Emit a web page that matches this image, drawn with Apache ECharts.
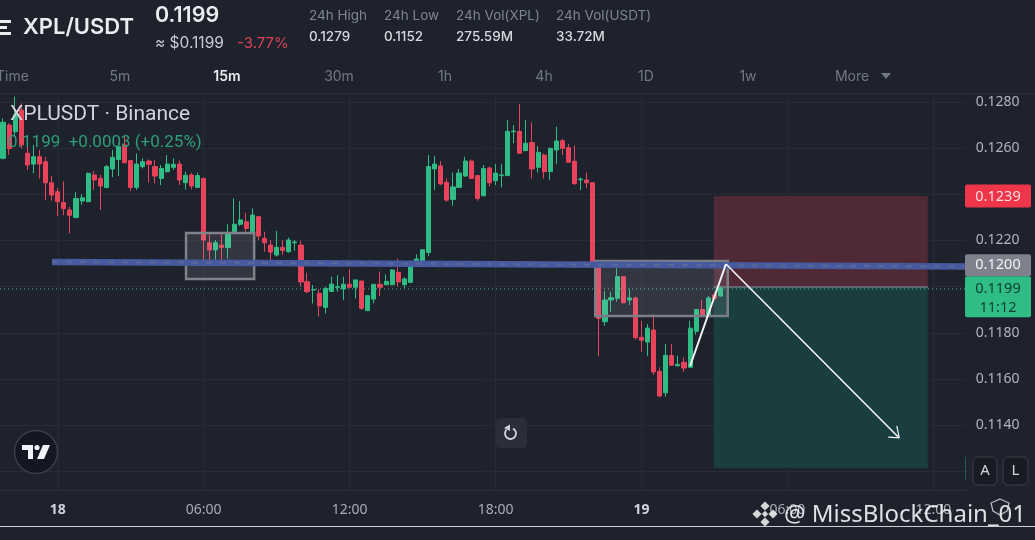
<!DOCTYPE html>
<html><head><meta charset="utf-8">
<style>html,body{margin:0;padding:0;background:#1e222d;overflow:hidden}#c{width:1035px;height:540px}</style>
<script src="https://cdn.jsdelivr.net/npm/echarts@6/dist/echarts.min.js"></script>
</head><body><div id="c"></div>
<script>
const opens=[.12556,.12700,.12671,.12765,.12578,.12531,.12563,.12541,.12450,.12411,.12364,.12332,.12300,.12371,.12368,.12484,.12469,.12430,.12510,.12551,.12614,.12546,.12430,.12520,.12544,.12520,.12469,.12498,.12517,.12531,.12450,.12484,.12430,.12469,.12190,.12159,.12179,.12169,.12238,.12270,.12281,.12238,.12303,.12209,.12180,.12137,.12170,.12151,.12190,.12180,.12021,.11985,.11971,.11910,.11979,.11997,.11990,.12010,.11997,.12024,.11896,.11946,.12010,.12008,.12008,.12062,.12008,.12018,.12101,.12105,.12148,.12510,.12523,.12452,.12378,.12430,.12479,.12544,.12481,.12394,.12514,.12459,.12481,.12481,.12671,.12673,.12589,.12624,.12517,.12570,.12499,.12592,.12632,.12602,.12543,.12463,.12462,.12450,.12091,.11848,.11942,.11949,.12043,.11942,.11951,.11780,.11760,.11812,.11633,.11540,.11701,.11657,.11672,.11650,.11806,.11901,.11878,.11964,.11959];
const closes=[.12712,.12599,.12744,.12614,.12527,.12563,.12531,.12450,.12397,.12368,.12338,.12309,.12382,.12385,.12491,.12462,.12436,.12520,.12560,.12606,.12537,.12430,.12531,.12541,.12530,.12479,.12512,.12531,.12530,.12462,.12482,.12436,.12481,.12202,.12159,.12190,.12170,.12231,.12270,.12289,.12252,.12310,.12219,.12190,.12150,.12170,.12156,.12202,.12193,.12020,.11978,.11988,.11916,.11992,.12011,.12000,.12010,.11997,.12029,.11906,.11961,.12010,.11997,.12023,.12072,.12020,.12033,.12109,.12120,.12160,.12520,.12531,.12445,.12375,.12432,.12492,.12544,.12469,.12382,.12512,.12450,.12492,.12484,.12673,.12674,.12578,.12621,.12510,.12582,.12498,.12599,.12631,.12599,.12539,.12447,.12466,.12450,.12094,.11862,.11942,.11952,.12043,.11930,.11951,.11779,.11768,.11820,.11630,.11526,.11702,.11659,.11663,.11647,.11820,.11901,.11870,.11951,.11948,.11994];
const lows=[.12551,.12570,.12650,.12599,.12505,.12491,.12469,.12375,.12372,.12306,.12310,.12231,.12296,.12354,.12365,.12419,.12332,.12426,.12474,.12479,.12534,.12414,.12419,.12512,.12450,.12447,.12440,.12494,.12505,.12440,.12421,.12421,.12429,.12108,.12115,.12118,.12115,.12122,.12231,.12263,.12238,.12231,.12202,.12151,.12115,.12130,.12137,.12147,.12156,.12000,.11971,.11927,.11870,.11884,.11978,.11978,.11942,.11997,.11949,.11899,.11894,.11927,.11959,.12007,.12007,.12000,.11992,.12017,.12098,.12104,.12133,.12419,.12440,.12368,.12351,.12429,.12476,.12466,.12372,.12390,.12433,.12440,.12430,.12479,.12621,.12577,.12588,.12469,.12494,.12469,.12462,.12531,.12570,.12537,.12440,.12419,.12426,.12089,.11699,.11829,.11891,.11935,.11927,.11920,.11771,.11718,.11699,.11617,.11520,.11523,.11656,.11653,.11631,.11649,.11792,.11867,.11875,.11945,.11956];
const highs=[.12729,.12708,.12823,.12794,.12621,.12614,.12592,.12563,.12479,.12426,.12455,.12346,.12411,.12401,.12494,.12501,.12484,.12527,.12592,.12621,.12650,.12549,.12577,.12556,.12551,.12549,.12527,.12570,.12556,.12546,.12498,.12494,.12494,.12472,.12228,.12202,.12231,.12270,.12382,.12371,.12320,.12339,.12306,.12238,.12202,.12241,.12202,.12212,.12202,.12199,.12060,.12007,.11988,.11999,.12043,.12050,.12043,.12076,.12029,.12026,.11964,.12010,.12065,.12053,.12076,.12122,.12040,.12112,.12140,.12161,.12570,.12566,.12544,.12469,.12494,.12510,.12563,.12551,.12484,.12527,.12520,.12531,.12531,.12722,.12700,.12791,.12722,.12712,.12609,.12577,.12603,.12693,.12640,.12618,.12612,.12473,.12494,.12450,.12094,.11982,.11978,.12079,.12046,.11990,.11956,.11852,.11838,.11880,.11650,.11751,.11751,.11702,.11693,.11852,.11901,.11942,.11959,.11978,.12000];
const tickLabels={9:'18',33:'06:00',57:'12:00',81:'18:00',105:'19',129:'06:00',153:'12:00'};
const boldTicks=['18','19'];
const bandCount=159;
const hiddenPriceTicks=['0.1300','0.1240','0.1200','0.1120','0.1100'];
const priceMin=0.11, priceMax=0.13, priceStep=0.002;
const riskZone=[117.4,152.6,.12393,.11998];
const rewardZone=[117.4,152.6,.11998,.11214];
const boxA=[30.6,41.8,.12232,.12033];
const boxB=[97.9,119.7,.12111,.11873];
const bandLine=[[8.55,.12107],[158.7,.12087]];
const lastPriceLine=[[0,.1199],[159,.1199]];
const entryLine=[[117.4,.11998],[152.6,.11998]];
const arrowUp=[[113.5,.11656],[119.4,.12098]];
const arrowDown=[[119.4,.12098],[147.9,.11344]];
const arrowHead=[[146.1,.11348],[147.9,.11344],[147.5,.11396]];
const statNames=['24h High','24h Low','24h Vol(XPL)','24h Vol(USDT)'];
const statValues=['0.1279','0.1152','275.59M','33.72M'];
const tabs=['Time','5m','15m','30m','1h','4h','1D','1w','More'];
const riskBadge=['0.1239',.12393], lineBadge=['0.1200',.12092], lastBadge=['0.1199','11:12',.1199];

const BG='#1e222d', GRID='#272b36', UP='#2fbd85', DOWN='#e9435b';
const FONT='Inter', AX='"Noto Sans"';
const cats=Array.from({length:bandCount},(_,i)=>tickLabels[i]||('b'+i));
const candles=opens.map((o,i)=>[o,closes[i],lows[i],highs[i]]);
const isTick=i=>tickLabels[i]!==undefined;
const chart=echarts.init(document.getElementById('c'),null,{renderer:'canvas'});
function zoneSeries(z,box,fill,stroke,sw){return {type:'custom',xAxisIndex:1,yAxisIndex:0,z:z,silent:true,animation:false,clip:true,
  data:[box],encode:{x:[0,1],y:[2,3]},
  renderItem:(p,api)=>{const a=api.coord([api.value(0),api.value(2)]),b=api.coord([api.value(1),api.value(3)]);
    return {type:'rect',shape:{x:a[0],y:a[1],width:b[0]-a[0],height:b[1]-a[1]},style:{fill:fill,stroke:stroke,lineWidth:sw}};}};}
function pathSeries(z,data,color,width,type,opacity){return {type:'line',xAxisIndex:1,yAxisIndex:0,z:z,data:data,showSymbol:false,silent:true,animation:false,clip:true,
  lineStyle:{color:color,width:width,type:type||'solid',opacity:opacity==null?1:opacity}};}
chart.setOption({
  animation:false,backgroundColor:BG,
  grid:{left:0,top:55.85,width:966.72,height:461.5,containLabel:false},
  xAxis:[{type:'category',data:cats,boundaryGap:true,z:0,
      axisLine:{show:false},axisTick:{show:false},axisLabel:{show:false},
      splitLine:{show:true,alignWithLabel:true,interval:i=>isTick(i),lineStyle:{color:GRID,width:1}}},
    {type:'value',min:0,max:bandCount,show:false,splitLine:{show:false}},
    {type:'category',data:cats,boundaryGap:true,z:200,position:'bottom',
      axisLine:{show:false},axisTick:{show:false},splitLine:{show:false},
      axisLabel:{interval:i=>isTick(i),margin:-14,hideOverlap:false,
        formatter:v=>boldTicks.includes(v)?'{b|'+v+'}':v,color:'#a9adb8',fontFamily:AX,fontSize:14,
        rich:{b:{fontWeight:'bold',color:'#d1d4dc',fontFamily:AX,fontSize:14}}}}],
  yAxis:{type:'value',position:'right',min:priceMin,max:priceMax,interval:priceStep,scale:true,z:0,
    axisLine:{show:false},axisTick:{show:false},
    splitLine:{show:true,lineStyle:{color:GRID,width:1}},
    axisLabel:{margin:9,padding:[2,0,0,0],color:'#b2b5be',fontFamily:AX,fontSize:14,formatter:v=>{const s=v.toFixed(4);return hiddenPriceTicks.includes(s)?'':s;}}},
  series:[
    zoneSeries(1,riskZone,'#4f2a36',null,0),
    zoneSeries(1,rewardZone,'#1a3e3f',null,0),
    pathSeries(2,lastPriceLine,'#4fb897',1,[1,3]),
    {type:'candlestick',data:candles,z:3,barWidth:4.6,silent:true,animation:false,
      itemStyle:{color:UP,color0:DOWN,borderColor:UP,borderColor0:DOWN,borderWidth:1}},
    pathSeries(3,entryLine,'#6f7a80',1.5),
    zoneSeries(4,boxA,'rgba(200,205,215,0.12)','#808389',2.5),
    zoneSeries(4,boxB,'rgba(200,205,215,0.12)','#7b7e85',2.5),
    pathSeries(5,bandLine,'#475a9f',6.5),
    pathSeries(5,bandLine,'#6f7390',2,[6,8],0.55),
    pathSeries(7,arrowUp,'#f2f4f6',2),
    pathSeries(7,arrowDown,'#f2f4f6',1.6),
    pathSeries(7,arrowHead,'#f2f4f6',1.2)
  ]
});
const py=v=>chart.convertToPixel({yAxisIndex:0},v);
const T=(x,y,t,fs,col,extra)=>({type:'text',z:120,silent:true,x:x,y:y,style:Object.assign({text:t,fontSize:fs,fill:col,fontFamily:FONT,verticalAlign:'middle'},extra||{})});
const R=(x,y,w,h,fill,extra)=>({type:'rect',z:(extra&&extra.z)||110,silent:true,shape:{x:x,y:y,width:w,height:h,r:(extra&&extra.r)||0},style:{fill:fill,stroke:extra&&extra.stroke,lineWidth:extra&&extra.lw}});
const statX=[309,384,456,556];
const tabX=[-4,120,227,339,445,544,646,748,852];
const els=[
  R(0,0,1035,93,BG), R(0,490.5,1035,50,BG),
  R(0,93,1035,1,'#272b36'), R(0,490,966,1,'#2b2f3a'),
  R(0,526,1035,1,'#c9ced6'),
  R(0,20,11,3,'#eaecef'),R(0,26,7,3,'#eaecef'),R(0,32,11,3,'#eaecef'),
  T(23,27,'XPL/USDT',22,'#eaecef',{fontWeight:600}),
  T(155,16,'0.1199',21.5,'#eaecef',{fontWeight:600}),
  T(155,43,'≈ $0.1199',15.5,'#c9ccd4'),
  T(237,43,'-3.77%',15,'#d9445a'),
  T(10,115,'XPLUSDT · Binance',21,'#d1d4dc',{fontFamily:'Roboto'}),
  T(8,143,'0.1199  +0.0003 (+0.25%)',17,'#2f9e78',{fontFamily:'Roboto'}),
];
statNames.forEach((s,i)=>{els.push(T(statX[i],16,s,13.5,'#7f8591'));els.push(T(statX[i],37,statValues[i],13.5,'#d5d8de',{fontWeight:500}));});
tabs.forEach((s,i)=>{els.push(T(tabX[i],77,s,14,i===2?'#eaecef':'#737885',{align:i===0?'left':'center',fontWeight:i===2?600:400}));});
els.push({type:'polygon',z:120,silent:true,shape:{points:[[881,73],[891,73],[886,79]]},style:{fill:'#737885'}});
const yr=py(riskBadge[1]), yl=py(lineBadge[1]), yg=py(lastBadge[2]);
els.push(R(965,yr-11.5,66,23,'#ee3549',{r:2}));
els.push(T(998,yr+0.5,riskBadge[0],14.5,'#f6dcdf',{fontFamily:AX,align:'center'}));
els.push(R(965,yl-11,66,22,'#7e818b',{r:2}));
els.push(T(998,yl,lineBadge[0],14.5,'#f0f1f3',{fontFamily:AX,align:'center'}));
els.push(R(965,yl+11,66,41,'#2fbd85',{r:2}));
els.push(T(998,yg,lastBadge[0],14.5,'#0f3d31',{fontFamily:AX,align:'center'}));
els.push(T(998,yg+19,lastBadge[1],14.5,'#0f3d31',{fontFamily:AX,align:'center'}));
els.push({type:'circle',z:120,silent:true,shape:{cx:36,cy:452,r:21.5},style:{fill:'#131722',stroke:'#3a3e4a',lineWidth:1.5}});
els.push({type:'polygon',z:121,silent:true,shape:{points:[[22,445],[33,445],[33,459],[28,459],[28,450],[22,450]]},style:{fill:'#f0f3fa'}});
els.push({type:'circle',z:121,silent:true,shape:{cx:37,cy:447.5,r:2.6},style:{fill:'#f0f3fa'}});
els.push({type:'polygon',z:121,silent:true,shape:{points:[[43,445],[50,445],[44,459],[37,459]]},style:{fill:'#f0f3fa'}});
els.push(R(496,418,31,30,'#2a2e39',{r:4}));
els.push({type:'arc',z:121,silent:true,shape:{cx:510.5,cy:433.5,r:5.5,startAngle:-1.1,endAngle:3.9,clockwise:true},style:{fill:null,stroke:'#d1d4dc',lineWidth:1.8}});
els.push({type:'polygon',z:121,silent:true,shape:{points:[[504,428],[510,424.5],[510,431]]},style:{fill:'#d1d4dc'}});
els.push(R(965,457,1,23,'#1f5f52',{z:120}));
els.push(R(973,457,24,28,'#171b24',{r:5,stroke:'#3a3e4a',lw:1,z:120}));
els.push(R(1003,457,25,28,'#171b24',{r:5,stroke:'#3a3e4a',lw:1,z:120}));
els.push(T(985,471,'A',15,'#d1d4dc',{fontFamily:AX,align:'center'}));
els.push(T(1015.5,471,'L',15,'#d1d4dc',{fontFamily:AX,align:'center'}));
[[765,506],[765,522],[757,514],[773,514],[765,514]].forEach(c=>{const r=c[0]===765&&c[1]===514?3.2:4.6;
  els.push({type:'polygon',z:250,silent:true,shape:{points:[[c[0],c[1]-r],[c[0]+r,c[1]],[c[0],c[1]+r],[c[0]-r,c[1]]]},style:{fill:'rgba(235,235,235,0.9)'}});});
els.push({type:'text',z:252,silent:true,x:784,y:515,style:{text:'@ MissBlockChain_01',fontSize:24,fill:'rgba(238,240,243,0.92)',fontFamily:AX,verticalAlign:'middle'}});
els.push({type:'polygon',z:252,silent:true,shape:{points:[[1000,499],[1009,503],[1007,511],[1000,515],[993,511],[991,503]]},style:{fill:'none',stroke:'rgba(230,230,230,0.8)',lineWidth:1.2}});
chart.setOption({graphic:{elements:els}});
</script></body></html>
